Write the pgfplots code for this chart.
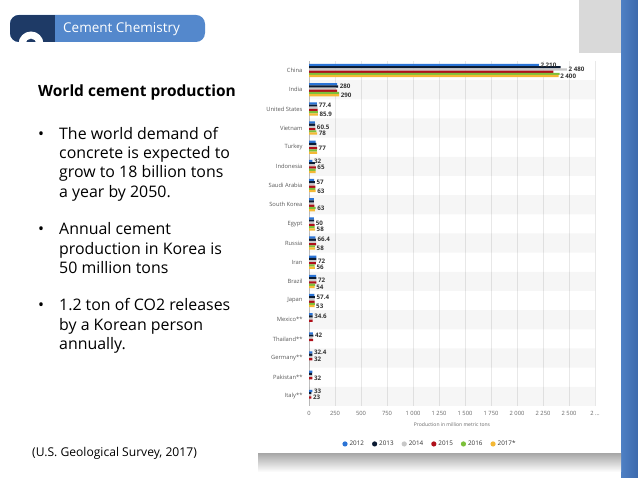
\documentclass[border=0pt]{standalone}
\usepackage{pgfplots}
\pgfplotsset{compat=1.18}
\usepackage{fontspec}
\setmainfont{Open Sans}
\definecolor{cA}{HTML}{2B74D6}
\definecolor{cB}{HTML}{0B1B33}
\definecolor{cC}{HTML}{C8C8C8}
\definecolor{cD}{HTML}{B0101A}
\definecolor{cE}{HTML}{7CC03A}
\definecolor{cF}{HTML}{F4B835}
\definecolor{hdr}{HTML}{5488CC}
\definecolor{navy}{HTML}{1E3A66}
\definecolor{stripL}{HTML}{4E80C4}
\definecolor{stripR}{HTML}{3C69AC}
\begin{document}
\begin{tikzpicture}[x=1pt,y=1pt]
% slide background
\fill[white] (0,0) rectangle (638,478);
\shade[left color=stripL, right color=stripR] (621,0) rectangle (638,478);
\fill[black!15] (579,425) rectangle (621,478);
\shade[top color=black!35, bottom color=white] (258,6) rectangle (621,25);
\fill[white] (256,25) rectangle (621,424);
% header
\fill[hdr, rounded corners=9pt] (10,436) rectangle (205,463);
\begin{scope}
\clip[rounded corners=9pt] (10,436) rectangle (205,463);
\fill[navy] (10,436) rectangle (55,463);
\fill[white, even odd rule] (31,434) circle (12.5) (31,434) circle (5.5);
\end{scope}
\node[anchor=west, text=white, font=\fontsize{13.5}{15}\selectfont, inner sep=0] at (63,449) {Cement Chemistry};
% left text
\node[anchor=base west, font=\bfseries\fontsize{15.5}{17}\selectfont, inner sep=0] at (38,381) {World cement production};
\begin{scope}[every node/.style={anchor=base west, inner sep=0, font=\fontsize{15.9}{18}\selectfont}]
\node at (38,338.7) {•};
\node at (59,338.7) {The world demand of};
\node at (59,319.4) {concrete is expected to};
\node at (59,300.1) {grow to 18 billion tons};
\node at (59,280.8) {a year by 2050.};
\node at (38,243) {•};
\node at (59,243) {Annual cement};
\node at (59,223.7) {production in Korea is};
\node at (59,204.4) {50 million tons};
\node at (38,167) {•};
\node at (59,167) {1.2 ton of CO2 releases};
\node at (59,147.7) {by a Korean person};
\node at (59,128.4) {annually.};
\end{scope}
\node[anchor=base west, font=\fontsize{12.1}{14}\selectfont, inner sep=0] at (32,21) {(U.S. Geological Survey, 2017)};
% chart
\begin{axis}[
  at={(309pt,72pt)}, anchor=south west,
  scale only axis, width=286pt, height=345pt,
  clip=false,
  xmin=0, xmax=2750, ymin=-0.5, ymax=17.5,
  axis lines*=left,
  x axis line style={draw=none},
  y axis line style={draw=black!25, line width=0.4pt},
  major tick length=0pt,
  xtick={0,250,500,750,1000,1250,1500,1750,2000,2250,2500,2750},
  xticklabels={0,250,500,750,1 000,1 250,1 500,1 750,2 000,2 250,2 500,2 …},
  ytick={0,...,17},
  yticklabels={Italy**,Pakistan**,Germany**,Thailand**,Mexico**,Japan,Brazil,Iran,Russia,Egypt,South Korea,Saudi Arabia,Indonesia,Turkey,Vietnam,United States,India,China},
  xticklabel style={font=\fontsize{5.8}{6}\selectfont, text=black!60, yshift=-2pt},
  yticklabel style={font=\fontsize{5.8}{6}\selectfont, text=black!65, xshift=-3pt},
  xmajorgrids, grid style={black!9, line width=0.4pt},
  xlabel={Production in million metric tons},
  xlabel style={font=\fontsize{5}{6}\selectfont, text=black!60, at={(axis description cs:0.5,-0.055)}, anchor=center},
  legend image code/.code={\fill[#1] (2.6pt,0pt) circle (2.6pt);},
  legend style={draw=none, fill=none, font=\fontsize{6.3}{7}\selectfont, text=black!80,
    legend columns=6, at={(0.423,-0.110)}, anchor=center,
    /tikz/every even column/.append style={column sep=6pt}},
  nodes near coords style={font=\bfseries\fontsize{6.2}{6.5}\selectfont, text=black!80, anchor=west, inner sep=1.5pt},
  lbl/.style={draw=none, mark=none, forget plot, nodes near coords, point meta=explicit symbolic,
    every node near coord/.append style={yshift=#1}},
]
% zebra bands
\addplot[xbar, bar width=1, bar shift=0pt, fill=black, fill opacity=0.035, draw=none, forget plot]
 coordinates {(2750,0) (2750,2) (2750,4) (2750,6) (2750,8) (2750,10) (2750,12) (2750,14) (2750,16)};
% bars
\addplot[xbar, bar width=2.2pt, bar shift=5.5pt, fill=cA, draw=none] coordinates {
 (2210,17) (270,16) (74.9,15) (56,14) (64,13) (32,12) (50,11) (48,10) (46,9) (61.7,8) (70,7) (68.8,6) (51.3,5) (35.4,4) (37,3) (32.4,2) (32,1) (33,0)};
\addlegendentry{2012}
\addplot[xbar, bar width=2.2pt, bar shift=3.3pt, fill=cB, draw=none] coordinates {
 (2420,17) (280,16) (77.4,15) (58,14) (72,13) (56,12) (57,11) (47,10) (50,9) (66.4,8) (70,7) (70,6) (57.4,5) (34.6,4) (42,3) (31.5,2) (31,1) (22,0)};
\addlegendentry{2013}
\addplot[xbar, bar width=2.2pt, bar shift=1.1pt, fill=cC, draw=none] coordinates {
 (2480,17) (260,16) (83.2,15) (60.5,14) (75,13) (60,12) (55,11) (48,10) (50,9) (68.4,8) (72,7) (72,6) (53.8,5) (35,4) (35,3) (32,2) (32,1) (21.4,0)};
\addlegendentry{2014}
\addplot[xbar, bar width=2.2pt, bar shift=-1.1pt, fill=cD, draw=none] coordinates {
 (2350,17) (270,16) (83.4,15) (60.5,14) (77,13) (65,12) (61,11) (52,10) (55,9) (69,8) (65,7) (72,6) (54.8,5) (35,4) (40,3) (32,2) (32,1) (23,0)};
\addlegendentry{2015}
\addplot[xbar, bar width=2.2pt, bar shift=-3.3pt, fill=cE, draw=none] coordinates {
 (2410,17) (290,16) (85.4,15) (70,14) (75,13) (63,12) (61,11) (63,10) (55,9) (56,8) (53,7) (60,6) (56,5)};
\addlegendentry{2016}
\addplot[xbar, bar width=2.2pt, bar shift=-5.5pt, fill=cF, draw=none] coordinates {
 (2400,17) (290,16) (85.9,15) (78,14) (77,13) (63,12) (63,11) (57,10) (58,9) (58,8) (56,7) (54,6) (53,5)};
\addlegendentry{2017*}
% value labels
\addplot[lbl=5.5pt] coordinates {
 (2210,17)[2 210] (32,12)[32] (32.4,2)[32.4] (33,0)[33]};
\addplot[lbl=3.3pt] coordinates {
 (280,16)[280] (77.4,15)[77.4] (57,11)[57] (66.4,8)[66.4] (57.4,5)[57.4] (34.6,4)[34.6] (42,3)[42]};
\addplot[lbl=1.1pt] coordinates {
 (2480,17)[2 480] (60.5,14)[60.5] (50,9)[50] (72,7)[72] (72,6)[72]};
\addplot[lbl=-1.1pt] coordinates {
 (77,13)[77] (65,12)[65] (32,2)[32] (32,1)[32] (23,0)[23]};
\addplot[lbl=-3.3pt] coordinates {
 (63,10)[63]};
\addplot[lbl=-5.5pt] coordinates {
 (2400,17)[2 400] (290,16)[290] (85.9,15)[85.9] (78,14)[78] (63,11)[63] (58,9)[58] (58,8)[58] (56,7)[56] (54,6)[54] (53,5)[53]};
\end{axis}
\end{tikzpicture}
\end{document}
